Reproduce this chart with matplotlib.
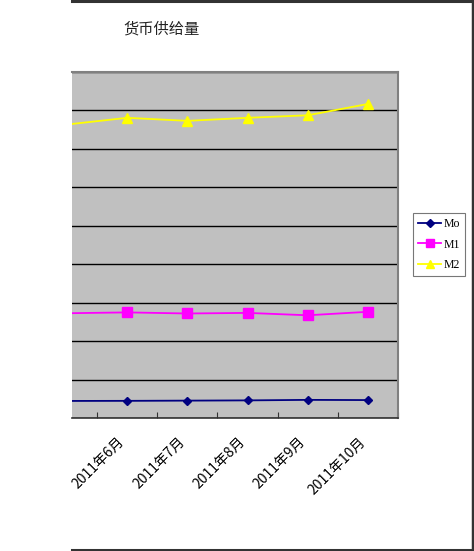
import matplotlib
matplotlib.use("Agg")
import matplotlib.pyplot as plt
from matplotlib.lines import Line2D

plt.rcParams['font.family'] = ['Noto Sans CJK SC', 'DejaVu Sans']

# monthly money supply (100 million yuan); May is cut off on the left of the picture
months = ["2011年5月", "2011年6月", "2011年7月", "2011年8月", "2011年9月", "2011年10月"]
m0 = [44353, 44610, 45191, 45818, 47145, 46627]
m1 = [272500, 274663, 271850, 273377, 267193, 276216]
m2 = [763409, 780821, 772924, 780852, 787406, 816829]
series_names = ["Mo", "M1", "M2"]

fig = plt.figure(figsize=(4.74, 5.51), dpi=100)
ax = fig.add_axes([72 / 474, 1 - 418 / 551, 326 / 474, 346 / 551])
ax.set_facecolor("#C0C0C0")

x = list(range(len(months)))
shown = list(range(1, len(months)))  # the May marker sits outside the crop
ax.plot(x, m0, color="#000080", marker="D", markersize=4.5, lw=1.3, markevery=shown, label=series_names[0])
ax.plot(x, m1, color="#FF00FF", marker="s", markersize=6.5, lw=1.3, markevery=shown, label=series_names[1])
ax.plot(x, m2, color="#FFFF00", marker="^", markersize=6.5, lw=1.3, markevery=shown, label=series_names[2])

ax.set_xlim(0.083, 5.5)
ax.set_ylim(0, 900000)
ax.set_yticks(range(0, 900001, 100000))
ax.yaxis.grid(True, color="black", lw=1)
ax.set_axisbelow(True)
ax.tick_params(axis="y", left=False, labelleft=False)

ax.set_xticks([0.5, 1.5, 2.5, 3.5, 4.5, 5.5])
ax.tick_params(axis="x", which="major", direction="in", length=4, color="#333333", labelbottom=False)
ax.set_xticks(x[1:], minor=True)
ax.set_xticklabels(months[1:], minor=True, rotation=45, ha="right", fontsize=10)
ax.tick_params(axis="x", which="minor", length=0, pad=12)

ax.spines["left"].set_visible(False)
ax.spines["bottom"].set_color("#333333")
ax.spines["bottom"].set_linewidth(1.2)
ax.spines["top"].set_color("#808080")
ax.spines["top"].set_linewidth(1.5)
ax.spines["right"].set_color("#808080")
ax.spines["right"].set_linewidth(1.5)

fig.text(123 / 474, 1 - 29 / 551, "货币供给量", fontsize=11, va="center", ha="left", color="#222222")

leg = fig.legend(loc="upper left", bbox_to_anchor=(413 / 474, 1 - 213 / 551),
                 prop={"family": "Liberation Serif", "size": 8.5}, frameon=True,
                 fancybox=False, edgecolor="#555555", handlelength=2.0, handletextpad=0.2,
                 borderpad=0.4, borderaxespad=0, labelspacing=0.75, markerscale=0.8)
leg.get_frame().set_linewidth(0.8)

# frame of the cropped chart area
fig.add_artist(Line2D([72 / 474, 1], [1 - 1 / 551, 1 - 1 / 551], color="#333333", lw=2.2))
fig.add_artist(Line2D([472.5 / 474, 472.5 / 474], [0, 1], color="#333333", lw=2.5))
fig.add_artist(Line2D([72 / 474, 1], [1 - 550 / 551, 1 - 550 / 551], color="#333333", lw=2.2))

fig.savefig("out.png", dpi=100)
